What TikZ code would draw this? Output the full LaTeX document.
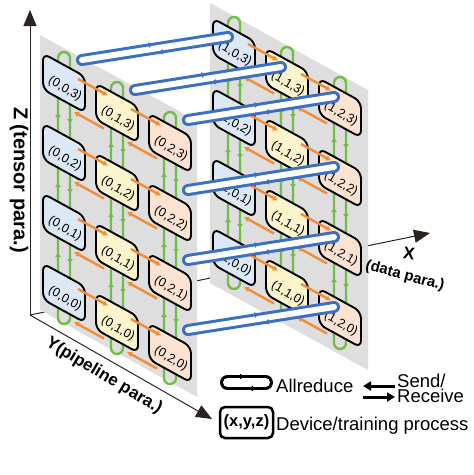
\documentclass[tikz,border=0pt]{standalone}
\usepackage{fontspec}
\setmainfont{Liberation Sans}
\usetikzlibrary{arrows.meta,calc}
\definecolor{plane}{HTML}{DEDEDE}
\definecolor{cblue}{HTML}{DCE8F5}
\definecolor{cyel}{HTML}{FBF4CD}
\definecolor{cpeach}{HTML}{FBE2D1}
\definecolor{gline}{HTML}{72BC4A}
\definecolor{oline}{HTML}{F28C36}
\definecolor{bline}{HTML}{3A6FC1}
\definecolor{axisc}{HTML}{2A2320}
\pgfdeclarelayer{back}
\pgfdeclarelayer{mid}
\pgfsetlayers{back,mid,main}
\begin{document}
\begin{tikzpicture}[x=1pt,y=-1pt,
  dev/.style={draw=black, line width=1.9pt, rounded corners=7pt, minimum width=42pt, minimum height=36pt, inner sep=0pt, yslant=-0.55},
  devlbl/.style={font=\fontsize{12.5}{13}\selectfont, inner sep=0pt, rotate=-30},
  gloop/.style={draw=gline, line width=2.4pt, rounded corners=6pt},
  gtip/.style={draw=gline, line width=1pt, -{Latex[length=5pt,width=6pt]}},
  oarrow/.style={draw=oline, line width=2.4pt, -{Latex[length=5pt,width=6pt]}},
  bloop/.style={draw=bline, line width=3pt, double=white, double distance=6pt, line cap=round},
  btip/.style={draw=bline, line width=1pt, -{Latex[length=5pt,width=6pt]}},
  axisline/.style={draw=axisc, line width=1pt, -{Triangle[length=16pt,width=13pt]}},
  axlbl/.style={font=\bfseries\fontsize{#1}{#1}\selectfont, inner sep=0pt},
  leg/.style={font=\fontsize{18.5}{14}\selectfont, inner sep=0pt, anchor=base west},
  legarrow/.style={draw=black, line width=3pt, -{Triangle[length=8pt,width=9pt]}}
]
\useasboundingbox (0,0) rectangle (474,475);
% axis origin and tips
\coordinate (O) at (30,315);
\coordinate (Zt) at (30,10);
\coordinate (Yt) at (212,419);
\coordinate (Xt) at (430,233);
\begin{pgfonlayer}{back}
  \fill[white] (0,0) rectangle (474,475);
  \draw[axisline] (O) -- (Xt);
  \fill[plane] (40,35) -- (197,121) -- (197,397) -- (40,310) -- cycle;
  \fill[plane] (210,3) -- (368,90) -- (368,370) -- (210,283) -- cycle;
\end{pgfonlayer}
% devices
\foreach \px/\ox/\oy in {0/64/83, 1/234/48} {
  \foreach \yy/\col in {0/cblue,1/cyel,2/cpeach} {
    \foreach \zz in {0,...,3} {
      \begin{scope}[shift={(\ox+53*\yy, \oy+30*\yy+70*(3-\zz))}]
        \node[dev, fill=\col] (n\px\yy\zz) at (0,0) {};
        \node[devlbl] (t\px\yy\zz) at (1,6) {(\px,\yy,\zz)};
      \end{scope}
    }
  }
}
% green allreduce loops (tensor parallel) behind devices
\begin{pgfonlayer}{mid}
\foreach \px in {0,1} {
  \foreach \yy in {0,1,2} {
    \draw[gloop] ($(n\px\yy3.center)+(-6,-31)$) rectangle ($(n\px\yy0.center)+(6,31)$);
    \foreach \zz in {1,2,3} {
      \draw[gtip] ($(n\px\yy\zz.center)+(-6,35)$) -- ($(n\px\yy\zz.center)+(-6,29)$);
      \draw[gtip] ($(n\px\yy\zz.center)+(6,35)$) -- ($(n\px\yy\zz.center)+(6,41)$);
    }
  }
}
\end{pgfonlayer}
% orange send/receive arrows (pipeline)
\foreach \px in {0,1} {
  \foreach \yy/\nn in {0/1,1/2} {
    \foreach \zz in {0,...,3} {
      \draw[oarrow] ($(n\px\yy\zz.center)+(14,-4)$) -- ($(n\px\nn\zz.center)+(-9,-17.5)$);
      \draw[oarrow] ($(n\px\nn\zz.center)+(-13,15.5)$) -- ($(n\px\yy\zz.center)+(10,29)$);
    }
  }
}
% blue allreduce loops (data parallel)
\foreach \yy/\zz in {0/3,1/3,2/3,2/2,2/1,2/0} {
  \coordinate (a\yy\zz) at ($(n0\yy\zz.center)+(18,-23)$);
  \coordinate (b\yy\zz) at ($(n1\yy\zz.center)+(-6,-11)$);
  \draw[bloop] (a\yy\zz) -- (b\yy\zz);
  \draw[btip] ($(a\yy\zz)!0.45!(b\yy\zz)+(0,-4.5)$) -- ($(a\yy\zz)!0.49!(b\yy\zz)+(0,-4.5)$);
  \draw[btip] ($(a\yy\zz)!0.56!(b\yy\zz)+(0,4.5)$) -- ($(a\yy\zz)!0.52!(b\yy\zz)+(0,4.5)$);
}
% front axes
\draw[axisline] (O) -- (Zt);
\draw[axisline] (O) -- (Yt);
\node[axlbl=20, rotate=-90] (zl) at (19,180) {Z (tensor para.)};
\node[axlbl=17, rotate=-31] (yl) at (104,376) {Y(pipeline para.)};
\node[axlbl=17, rotate=-8] (xl) at (409,253) {X};
\node[axlbl=15, rotate=-15] (xl2) at (405,276) {(data para.)};
% legend
\draw[draw=black, line width=3pt, double=white, double distance=9pt, line cap=round] (227.5,382.5) -- (265.5,382.5);
\draw[draw=black, line width=1pt, -{Latex[length=5pt,width=6pt]}] (237,376.5) -- (245,376.5);
\draw[draw=black, line width=1pt, -{Latex[length=5pt,width=6pt]}] (256,388.5) -- (248,388.5);
\node[leg] (lall) at (276,392) {Allreduce};
\coordinate (sa) at (395,386);
\coordinate (sb) at (363,386);
\coordinate (ra) at (363,397);
\coordinate (rb) at (395,397);
\draw[legarrow] (sa) -- (sb);
\draw[legarrow] (ra) -- (rb);
\node[leg] (lsend) at (397,387) {Send/};
\node[leg] (lrec) at (397,402) {Receive};
\node[draw=black, line width=2.5pt, rounded corners=5pt, minimum width=53pt, minimum height=31pt, inner sep=0pt, font=\bfseries\fontsize{16.5}{17}\selectfont] (ldev) at (246.5,422.5) {(x,y,z)};
\node[leg] (ldevt) at (276,430) {Device/training process};
\end{tikzpicture}
\end{document}
